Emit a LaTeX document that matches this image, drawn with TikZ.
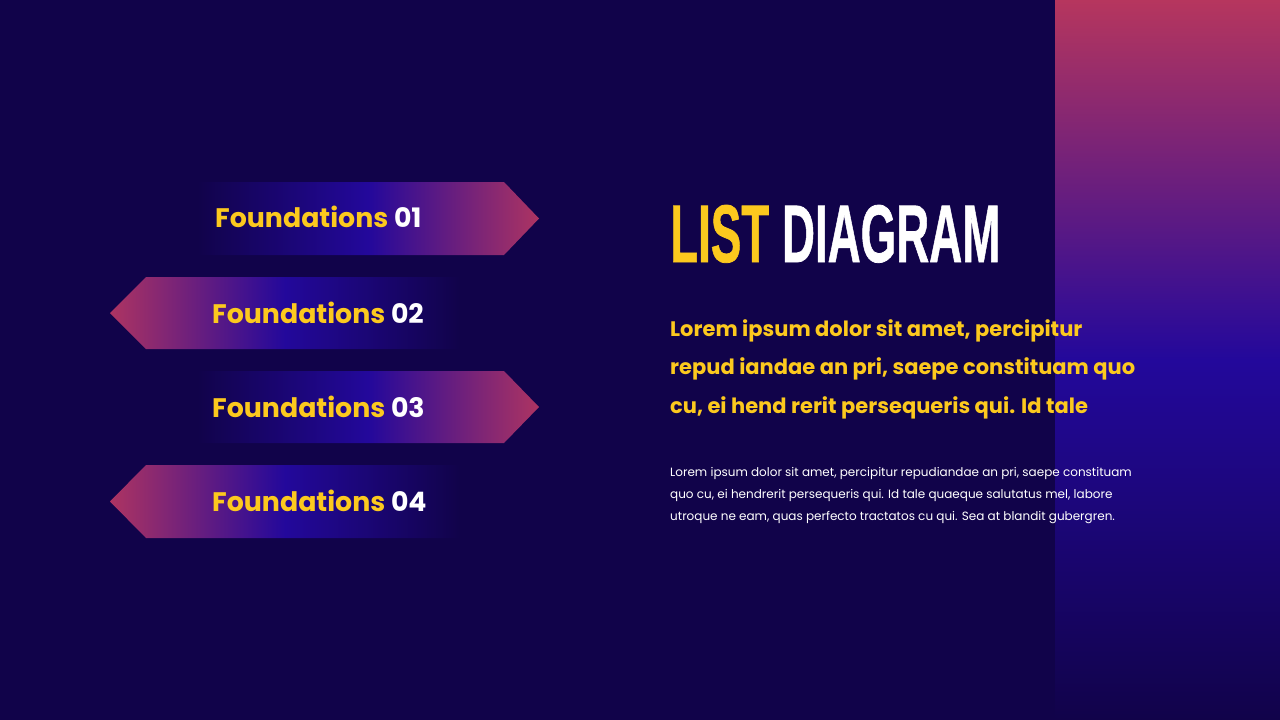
\documentclass[tikz,border=0pt]{standalone}
\usepackage{fontspec}
\usepackage{graphicx}
\setmainfont{Poppins}
\newfontfamily\titlefont{Liberation Sans}[BoldFeatures={FakeBold=1}]
\usetikzlibrary{positioning}

\definecolor{bgnavy}{HTML}{11034A}
\definecolor{deepblue}{HTML}{23089B}
\definecolor{rose}{HTML}{AD3462}
\definecolor{stripetop}{HTML}{B6365E}
\definecolor{gold}{HTML}{FCC91E}

\begin{document}
\begin{tikzpicture}[x=1pt, y=-1pt,
    tagtext/.style={anchor=base west, inner sep=0pt, text=gold, font=\bfseries\fontsize{26.8}{30}\selectfont},
    rightarr/.style={left color=bgnavy, right color=rose, middle color=deepblue},
    leftarr/.style={left color=rose, right color=bgnavy, middle color=deepblue}]
\fill[bgnavy] (0,0) rectangle (1280,720);
\useasboundingbox (0,0) rectangle (1280,720);

% side stripe
\shade[top color=stripetop, bottom color=bgnavy, middle color=deepblue] (1055,0) rectangle (1280,720);

% arrows
\shade[rightarr] (197,182) -- (504,182) -- (539,218.5) -- (504,255) -- (197,255) -- cycle;
\shade[leftarr] (110,313) -- (146,277) -- (460,277) -- (460,349) -- (146,349) -- cycle;
\shade[rightarr] (197,371) -- (504,371) -- (539,407) -- (504,443) -- (197,443) -- cycle;
\shade[leftarr] (110,501.5) -- (146,465) -- (460,465) -- (460,538) -- (146,538) -- cycle;

\node[tagtext] (found1) at (215,227) {Foundations \textcolor{white}{01}};
\node[tagtext] (found2) at (212,323) {Foundations \textcolor{white}{02}};
\node[tagtext] (found3) at (212,417) {Foundations \textcolor{white}{03}};
\node[tagtext] (found4) at (212,511) {Foundations \textcolor{white}{04}};

% title and text (base = last line)
\node[anchor=base west, inner sep=0pt, text=white] (title) at (670,262)
    {\resizebox{330pt}{57pt}{\titlefont\bfseries\textcolor{gold}{LIST} DIAGRAM}};
\node[anchor=base west, inner sep=0pt, text=gold, align=left,
    font=\bfseries\fontsize{21}{38.5}\selectfont] (lead) at (670,413)
    {Lorem ipsum dolor sit amet, percipitur\\
     repud iandae an pri, saepe constituam quo\\
     cu, ei hend rerit persequeris qui. Id tale};
\node[anchor=base west, inner sep=0pt, text=white, align=left,
    font=\fontsize{12}{21.7}\selectfont] (body) at (670,520)
    {Lorem ipsum dolor sit amet, percipitur repudiandae an pri, saepe constituam\\
     quo cu, ei hendrerit persequeris qui. Id tale quaeque salutatus mel, labore\\
     utroque ne eam, quas perfecto tractatos cu qui. Sea at blandit gubergren.};
\end{tikzpicture}
\end{document}
